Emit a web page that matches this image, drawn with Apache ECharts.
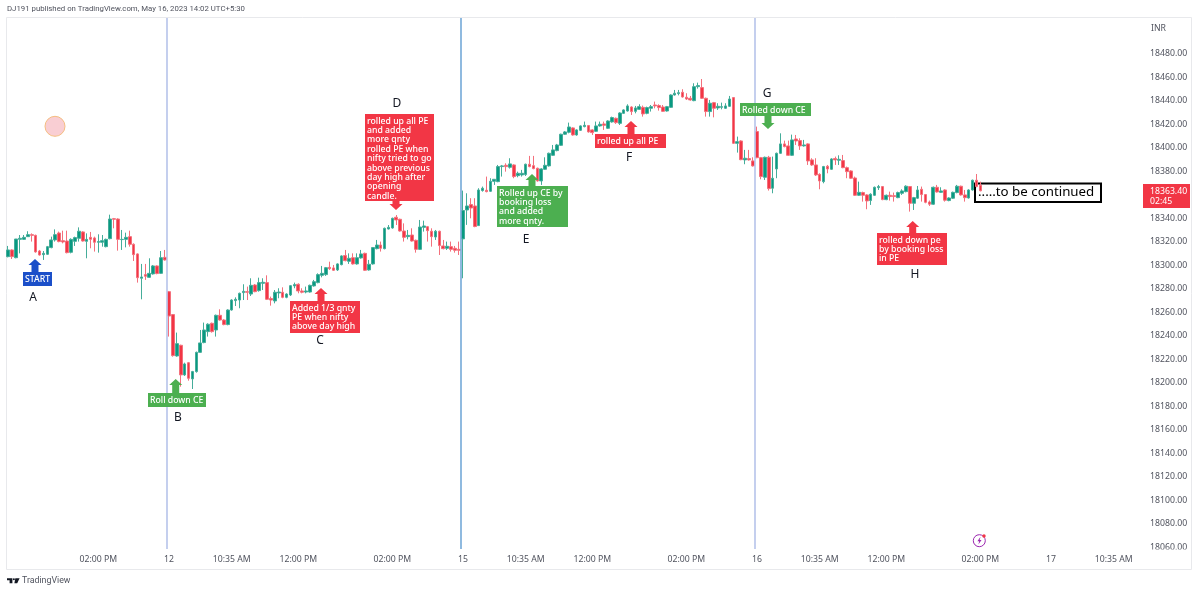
<!DOCTYPE html>
<html>
<head>
<meta charset="utf-8">
<title>DJ191 NIFTY 5m</title>
<script src="https://cdn.jsdelivr.net/npm/echarts@6/dist/echarts.min.js"></script>
<style>
html,body{margin:0;padding:0;background:#fff;}
#main{width:1199px;height:593px;}
</style>
</head>
<body>
<div id="main"></div>
<script>
// candles are [open, close, low, high], one array for each session
var may11Candles = [
[18307.4,18313.1,18306.8,18316.5],[18313.1,18307.4,18305.4,18313.6],[18306.5,18322.4,18306.0,18322.4],[18322.1,18323.0,18310.2,18325.8],
[18322.1,18323.8,18321.6,18325.8],[18324.4,18326.1,18324.4,18329.0],[18326.1,18325.5,18320.2,18327.2],[18325.5,18311.4,18310.8,18326.1],
[18312.2,18308.8,18308.3,18313.1],[18309.1,18310.2,18304.6,18312.2],[18309.4,18315.9,18308.8,18316.5],[18315.1,18321.6,18314.5,18324.4],
[18321.6,18326.1,18320.2,18330.6],[18327.5,18320.2,18319.6,18328.7],[18321.0,18319.9,18318.7,18329.5],[18320.7,18310.8,18310.2,18329.5],
[18311.1,18322.1,18310.2,18323.0],[18320.4,18323.6,18316.5,18324.4],[18323.0,18329.0,18320.2,18332.3],[18328.4,18320.7,18320.2,18329.0],
[18320.4,18322.1,18306.0,18327.2],[18323.8,18322.1,18314.5,18328.4],[18323.3,18319.6,18311.7,18324.4],[18319.6,18320.2,18310.8,18326.4],
[18319.6,18321.0,18315.9,18325.8],[18315.9,18322.1,18315.3,18322.7],[18322.7,18339.4,18322.1,18343.1],[18339.7,18339.2,18331.5,18340.3],
[18339.4,18322.1,18312.5,18340.0],[18321.9,18322.1,18313.1,18330.1],[18322.1,18323.8,18315.3,18327.8],[18324.4,18317.9,18315.9,18329.5],
[18317.9,18309.1,18303.7,18318.7],[18309.7,18289.5,18285.3,18310.2],[18289.0,18290.1,18271.1,18301.2],[18292.1,18290.7,18287.6,18301.2],
[18289.8,18293.2,18289.3,18306.0],[18292.7,18299.5,18292.1,18300.3],[18299.5,18293.0,18292.4,18300.0],[18293.2,18306.5,18292.7,18312.2],
[18306.8,18304.6,18304.0,18313.1]
];
var may12Candles = [
[18277.6,18256.9,18239.4,18278.2],[18258.1,18223.2,18222.3,18258.6],[18222.9,18233.4,18222.3,18242.8],[18232.0,18206.8,18196.8,18232.5],
[18206.8,18216.1,18205.9,18217.2],[18217.2,18203.9,18201.9,18217.8],[18203.4,18209.6,18194.8,18210.2],[18209.6,18226.0,18208.7,18226.6],
[18226.0,18234.0,18225.5,18245.0],[18234.3,18245.0,18233.7,18251.3],[18243.6,18249.9,18239.4,18250.7],[18250.7,18243.6,18242.8,18251.3],
[18245.0,18257.5,18239.4,18258.1],[18257.5,18253.5,18253.0,18262.6],[18253.5,18249.6,18249.0,18254.1],[18249.6,18262.0,18249.0,18262.6],
[18262.0,18270.5,18261.5,18271.1],[18270.0,18271.1,18265.4,18272.8],[18270.5,18276.2,18263.5,18276.8],[18276.8,18277.9,18270.5,18283.9],
[18277.6,18277.1,18270.5,18281.9],[18275.6,18283.0,18273.9,18289.0],[18283.3,18277.6,18277.1,18284.1],[18278.5,18285.3,18277.6,18289.5],
[18284.7,18285.6,18279.0,18289.0],[18285.3,18271.1,18270.5,18291.5],[18271.7,18270.5,18265.7,18273.4],[18269.7,18277.1,18267.7,18279.0],
[18276.5,18277.3,18272.0,18280.5],[18277.1,18272.8,18272.0,18281.3],[18272.8,18275.6,18272.0,18276.2],[18274.8,18282.7,18273.9,18283.3],
[18282.5,18283.6,18280.5,18285.3],[18283.9,18278.2,18276.2,18284.7],[18278.2,18277.1,18276.2,18280.5],[18277.3,18278.2,18276.2,18281.9],
[18277.3,18283.0,18276.8,18283.6],[18282.5,18286.1,18281.9,18287.6],[18285.3,18292.1,18284.7,18293.2],[18291.5,18293.2,18289.8,18299.5],
[18292.1,18298.0,18291.0,18298.6],[18298.3,18297.2,18296.1,18303.1],[18297.8,18295.8,18295.2,18300.3],[18296.1,18301.2,18295.2,18301.7],
[18300.6,18308.0,18300.0,18308.5],[18308.3,18304.0,18303.4,18313.1],[18303.4,18306.0,18301.2,18310.2],[18306.5,18301.2,18300.6,18310.2],
[18301.2,18306.5,18300.6,18310.2],[18306.3,18309.7,18305.7,18313.1],[18310.2,18295.8,18295.2,18310.8],[18296.1,18300.9,18295.5,18304.6],
[18301.2,18315.1,18300.6,18315.6],[18314.2,18317.3,18313.6,18321.6],[18317.3,18314.5,18311.7,18320.2],[18314.2,18331.5,18313.6,18332.1],
[18330.9,18332.3,18330.6,18334.3],[18331.8,18340.0,18331.2,18340.6],[18340.9,18338.6,18334.3,18342.8],[18339.2,18329.2,18328.7,18339.7],
[18329.2,18323.8,18320.2,18335.7],[18324.4,18325.5,18322.1,18330.1],[18325.8,18320.7,18320.2,18331.5],[18321.3,18313.6,18310.8,18321.9],
[18313.6,18332.6,18313.1,18338.6],[18332.3,18333.5,18328.7,18338.0],[18332.9,18329.5,18320.2,18333.5],[18329.0,18324.4,18315.9,18331.5],
[18324.1,18329.0,18321.6,18330.1],[18329.0,18316.8,18308.8,18329.5],[18316.5,18314.2,18313.6,18321.6],[18314.5,18316.2,18313.1,18320.2],
[18315.9,18313.6,18311.7,18320.2],[18314.5,18312.8,18310.8,18316.5],[18313.6,18312.8,18308.8,18320.2]
];
var may15Candles = [
[18322.5,18346.6,18289.0,18363.6],[18347.1,18350.5,18334.4,18361.3],[18351.7,18348.8,18340.0,18357.1],[18350.5,18333.0,18332.4,18357.1],
[18333.8,18364.1,18333.5,18365.6],[18363.6,18365.6,18362.7,18367.0],[18363.9,18362.7,18362.1,18375.5],[18363.0,18371.5,18362.4,18374.1],
[18371.5,18373.2,18368.4,18373.2],[18371.2,18384.0,18370.7,18385.4],[18384.0,18384.6,18375.5,18385.4],[18385.1,18384.0,18379.7,18386.8],
[18383.4,18386.3,18382.3,18391.1],[18385.4,18375.5,18374.1,18386.0],[18376.3,18378.3,18374.9,18379.7],[18376.9,18378.3,18375.5,18381.2],
[18377.2,18386.0,18376.0,18386.5],[18386.0,18384.0,18383.4,18393.1],[18384.8,18382.3,18381.7,18393.1],[18382.6,18371.8,18371.2,18383.1],
[18371.8,18382.0,18368.4,18382.6],[18381.7,18385.1,18381.2,18391.9],[18384.6,18395.3,18384.0,18395.9],[18393.6,18398.2,18393.1,18402.4],
[18397.6,18402.4,18397.0,18403.3],[18402.1,18411.5,18401.6,18412.0],[18411.5,18413.5,18410.9,18414.3],[18413.2,18417.7,18412.3,18421.4],
[18416.9,18410.9,18410.3,18417.4],[18410.9,18415.2,18410.3,18415.7],[18414.9,18418.6,18414.3,18419.1],[18418.0,18419.1,18417.4,18422.3],
[18418.9,18413.5,18412.9,18419.4],[18415.2,18412.9,18410.9,18415.7],[18414.0,18418.6,18413.5,18422.3],[18418.6,18420.0,18418.0,18422.3],
[18420.3,18419.1,18415.2,18422.3],[18416.6,18422.8,18416.0,18423.4],[18422.0,18425.7,18421.4,18426.5],[18425.1,18421.4,18420.3,18425.7],
[18420.8,18429.6,18419.4,18430.2],[18429.3,18432.2,18428.8,18432.7],[18431.3,18435.6,18430.8,18437.0],[18434.7,18430.8,18427.9,18435.3],
[18431.0,18433.9,18429.3,18435.6],[18432.7,18435.0,18432.2,18437.0],[18434.4,18428.8,18426.5,18435.9],[18429.3,18434.2,18428.5,18435.0],
[18433.6,18435.0,18430.8,18436.4],[18436.4,18435.6,18433.6,18439.3],[18435.9,18434.2,18431.6,18437.0],[18434.7,18431.0,18430.5,18436.4],
[18431.3,18435.0,18430.8,18435.6],[18434.4,18444.9,18433.9,18445.5],[18444.9,18446.4,18444.4,18449.2],[18446.1,18446.9,18444.6,18449.2],
[18447.2,18443.2,18442.7,18449.8],[18443.0,18441.5,18440.7,18446.4],[18442.1,18440.7,18440.1,18444.1],[18440.1,18452.0,18439.6,18454.9],
[18452.0,18452.9,18450.3,18455.4],[18451.2,18442.1,18441.5,18458.5],[18442.1,18430.8,18426.5,18442.7],[18430.8,18437.9,18426.5,18440.7],
[18438.4,18433.6,18425.9,18439.0],[18433.9,18435.3,18432.2,18437.9],[18434.4,18435.0,18432.7,18438.4],[18433.6,18435.6,18433.0,18437.9],
[18435.3,18441.5,18434.7,18444.1],[18442.7,18403.8,18403.3,18443.2],[18403.8,18405.2,18395.9,18409.5],[18405.8,18389.9,18389.4,18406.4],
[18389.7,18391.1,18386.0,18398.2],[18390.8,18389.7,18389.1,18398.2],[18388.8,18384.6,18384.0,18391.9]
];
var may16Candles = [
[18413.8,18391.6,18391.1,18418.0],[18391.6,18375.5,18373.2,18392.2],[18374.9,18391.9,18372.6,18392.5],[18391.9,18365.3,18363.6,18393.1],
[18365.6,18374.1,18361.3,18392.5],[18382.0,18395.3,18374.1,18395.9],[18395.3,18403.3,18394.8,18412.3],[18403.3,18401.0,18400.4,18406.1],
[18401.6,18393.6,18393.1,18406.1],[18393.6,18406.7,18393.1,18411.2],[18407.5,18405.8,18402.4,18410.9],[18406.1,18401.6,18398.2,18408.1],
[18401.6,18402.4,18401.0,18406.7],[18403.3,18388.8,18385.4,18403.8],[18389.7,18385.4,18384.6,18391.1],[18385.4,18376.9,18376.0,18391.1],
[18377.4,18371.8,18364.7,18378.3],[18371.2,18384.0,18369.8,18384.6],[18384.3,18382.0,18378.3,18385.4],[18381.7,18390.5,18381.2,18391.1],
[18390.8,18389.7,18385.4,18392.5],[18389.4,18390.2,18385.4,18393.6],[18389.1,18383.1,18382.6,18393.9],[18383.1,18379.7,18374.1,18384.0],
[18380.3,18374.1,18373.5,18380.9],[18374.3,18359.6,18359.0,18375.5],[18359.6,18362.1,18359.0,18371.2],[18361.9,18359.6,18354.2,18362.7],
[18359.9,18354.8,18347.7,18360.5],[18355.1,18360.5,18351.4,18361.3],[18359.6,18366.4,18359.0,18367.0],[18366.1,18367.0,18364.1,18368.4],
[18367.0,18355.9,18355.4,18367.5],[18355.9,18359.6,18355.4,18360.2],[18359.6,18358.5,18355.1,18362.7],[18359.3,18358.5,18354.2,18361.9],
[18357.6,18361.9,18357.1,18362.7],[18361.3,18363.3,18359.9,18364.7],[18362.7,18367.3,18362.1,18368.1],[18367.0,18352.8,18345.7,18367.5],
[18352.8,18357.6,18347.1,18358.2],[18357.1,18364.1,18356.5,18367.5],[18364.7,18360.2,18354.2,18367.0],[18360.2,18353.6,18352.8,18360.7],
[18353.9,18352.0,18350.5,18355.1],[18352.0,18366.4,18351.4,18367.0],[18366.4,18362.4,18361.9,18368.4],[18362.1,18363.3,18361.6,18366.4],
[18364.1,18355.4,18354.2,18364.7],[18355.1,18357.3,18354.5,18357.9],[18357.1,18362.1,18356.5,18362.7],[18361.9,18367.3,18361.3,18368.4],
[18367.3,18359.9,18359.3,18367.8],[18359.9,18357.6,18354.2,18364.1],[18357.3,18364.1,18356.8,18364.7],[18364.1,18372.4,18363.6,18372.9],
[18372.4,18367.0,18366.4,18377.7],[18368.1,18363.4,18363.0,18371.2]
];

var priceTicks = [18060,18080,18100,18120,18140,18160,18180,18200,18220,18240,18260,18280,18300,18320,18340,18360,18380,18400,18420,18440,18460,18480];
var tickCategories = ['11 14:00','12 09:15','12 10:35','12 12:00','12 14:00','15 09:15','15 10:35','15 12:00','15 14:00','16 09:15','16 10:35','16 12:00','16 14:00','17 09:15','17 10:35'];
var tickLabels = ['02:00 PM','12','10:35 AM','12:00 PM','02:00 PM','15','10:35 AM','12:00 PM','02:00 PM','16','10:35 AM','12:00 PM','02:00 PM','17','10:35 AM'];
var sessionStarts = [41, 116, 191];   // bar edge where each new session begins
var lastPrice = '18363.40';
var countdown = '02:45';

// 5 minute bars, 09:15 is bar 0 of a session
function barTime(day, k){
	var m = 9*60 + 15 + k*5;
	var h = Math.floor(m/60);
	m = m%60;
	return day + ' ' + (h<10?'0':'') + h + ':' + (m<10?'0':'') + m;
}
var categories = [];
function addBars(day, from, to){
	for(var k=from;k<to;k++){
		categories.push(barTime(day,k));
	}
}
addBars('11',34,75);
addBars('12',0,75);
addBars('15',0,75);
addBars('16',0,75);
addBars('17',0,24);

var candles = may11Candles.concat(may12Candles,may15Candles,may16Candles);

var FONT = '"Noto Sans"';
var SMALL_FONT = 'Roboto';
var RED = '#f23645', GREEN = '#4caf50', BLUE = '#1b4fc9';

// note box with an arrow pointing at the candles
function callout(x, y, w, h, lines, color, tipX, tipY){
	var down = tipY > y;
	var base = down ? y+h : y;
	var headY = down ? tipY-6 : tipY+6;
	return [
		{type:'polygon',z:10,shape:{points:[[tipX,tipY],[tipX-6.5,headY],[tipX-3.5,headY],[tipX-3.5,base],[tipX+3.5,base],[tipX+3.5,headY],[tipX+6.5,headY]]},style:{fill:color}},
		{type:'rect',z:10,shape:{x:x,y:y,width:w,height:h},style:{fill:color}},
		{type:'text',z:11,x:x+2,y:y+2.5,style:{text:lines.join('\n'),fill:'#fff',font:'500 8.7px '+FONT,lineHeight:9.4}}
	];
}
function letter(t, x, y){
	return {type:'text',z:11,x:x,y:y,style:{text:t,fill:'#131722',font:'12px '+FONT,align:'center',verticalAlign:'middle'}};
}

var graphics = [
	{type:'rect',z:0,shape:{x:6.5,y:17.5,width:1185,height:552},style:{fill:null,stroke:'#e8e9ec',lineWidth:1}},
	{type:'text',x:7,y:5,style:{text:'DJ191 published on TradingView.com, May 16, 2023 14:02 UTC+5:30',fill:'#50535e',font:'7.8px '+SMALL_FONT}},
	{type:'text',x:1151,y:24.5,style:{text:'INR',fill:'#50535e',font:'8.7px '+FONT}},
	{type:'circle',z:5,shape:{cx:55,cy:126.3,r:10},style:{fill:'#f9ced3',stroke:'#f5bd80',lineWidth:1}},
	letter('A',33,298),letter('B',178,418),letter('C',320,341),letter('D',397,104),
	letter('E',526,240),letter('F',629,158),letter('G',767,94),letter('H',915,275),
	// last price tag
	{type:'rect',z:12,shape:{x:1143,y:184,width:47,height:24},style:{fill:RED}},
	{type:'text',z:13,x:1150,y:186.5,style:{text:lastPrice+'\n'+countdown,fill:'#fff',font:'8.7px '+FONT,lineHeight:10}},
	// to be continued box sits under the last candles
	{type:'rect',z:1,shape:{x:975,y:183.5,width:126,height:18.5},style:{fill:'#fff',stroke:'#000',lineWidth:2}},
	{type:'text',z:1,x:978,y:192.5,style:{text:'.....to be continued',fill:'#000',font:'13.3px '+FONT,verticalAlign:'middle'}},
	// 18060 is cut off by the bottom of the pane
	{type:'rect',z:9,shape:{x:1145,y:549.5,width:44,height:5},style:{fill:'#fff'}},
	// bolt icon
	{type:'circle',z:5,shape:{cx:979.3,cy:540.7,r:6},style:{fill:'#fff',stroke:'#9c27b0',lineWidth:1}},
	{type:'polygon',z:6,shape:{points:[[980.5,536.8],[977.4,541.2],[979.2,541.2],[978.4,544.6],[981.5,540],[979.7,540]]},style:{fill:'#9c27b0'}},
	{type:'circle',z:6,shape:{cx:984,cy:536,r:1.7},style:{fill:RED}},
	// TradingView logo
	{type:'polygon',shape:{points:[[7,578.3],[12.4,578.3],[12.4,583.3],[9.6,583.3],[9.6,580.3],[7,580.3]]},style:{fill:'#131722'}},
	{type:'circle',shape:{cx:13.9,cy:579.3,r:1},style:{fill:'#131722'}},
	{type:'polygon',shape:{points:[[15.3,578.3],[19.6,578.3],[17.2,583.3],[14.4,583.3]]},style:{fill:'#131722'}},
	{type:'text',x:22,y:576,style:{text:'TradingView',fill:'#50535e',font:'8.8px '+SMALL_FONT}}
];
graphics = graphics.concat(
	callout(23,272,29,14,['START'],BLUE,35,259),
	callout(148,393,58,14,['Roll down CE'],GREEN,175.7,379),
	callout(290,301,70,32,['Added 1/3 qnty','PE when nifty','above day high'],RED,321,288),
	callout(365,114,69,87,['rolled up all PE','and added','more qnty','rolled PE when','nifty tried to go','above previous','day high after','opening','candle.'],RED,396,210),
	callout(497,186,71,41,['Rolled up CE by','booking loss','and added','more qnty.'],GREEN,532,174),
	callout(595,134,71,14,['rolled up all PE'],RED,631,121),
	callout(740,103,71,13,['Rolled down CE'],GREEN,768,129),
	callout(877,233,70,32,['rolled down pe','by booking loss','in PE'],RED,912.7,221)
);

var sessionLines = [];
var lineColors = ['#b6c3ea','#74a9d8','#b6c3ea'];
for(var i=0;i<sessionStarts.length;i++){
	sessionLines.push({xAxis:sessionStarts[i],lineStyle:{color:lineColors[i],width:1.6,type:'solid'}});
}

var option = {
	animation:false,
	backgroundColor:'#fff',
	graphic:graphics,
	grid:{left:6.24,top:18,width:1136.8,height:531},
	xAxis:[
		{
			type:'category',
			data:categories,
			axisLine:{show:false},
			axisTick:{show:false},
			splitLine:{show:false},
			axisLabel:{
				margin:6,
				color:'#50535e',
				fontFamily:FONT,
				fontSize:8.7,
				interval:function(index,value){return tickCategories.indexOf(value)>=0;},
				formatter:function(value){return tickLabels[tickCategories.indexOf(value)];}
			}
		},
		// same width as the bars, only used to put the session lines between two bars
		{type:'value',show:false,min:0,max:categories.length,splitLine:{show:false}}
	],
	yAxis:{
		type:'value',
		position:'right',
		min:18058.7,
		max:18510.4,
		axisLine:{show:false},
		axisTick:{show:false},
		splitLine:{show:false},
		axisLabel:{
			customValues:priceTicks,
			margin:7,
			color:'#50535e',
			fontFamily:FONT,
			fontSize:8.7,
			formatter:function(value){return value.toFixed(2);}
		}
	},
	series:[
		{
			type:'scatter',
			xAxisIndex:1,
			data:[],
			silent:true,
			markLine:{silent:true,symbol:'none',label:{show:false},animation:false,data:sessionLines}
		},
		{
			type:'candlestick',
			data:candles,
			barWidth:3.2,
			// the border is also the wick, a lighter colour than the body
			itemStyle:{color:'#089981',color0:'#f23645',borderColor:'#45ad9a',borderColor0:'#f4707c',borderWidth:1}
		}
	]
};

var chart = echarts.init(document.getElementById('main'));
chart.setOption(option);
</script>
</body>
</html>
